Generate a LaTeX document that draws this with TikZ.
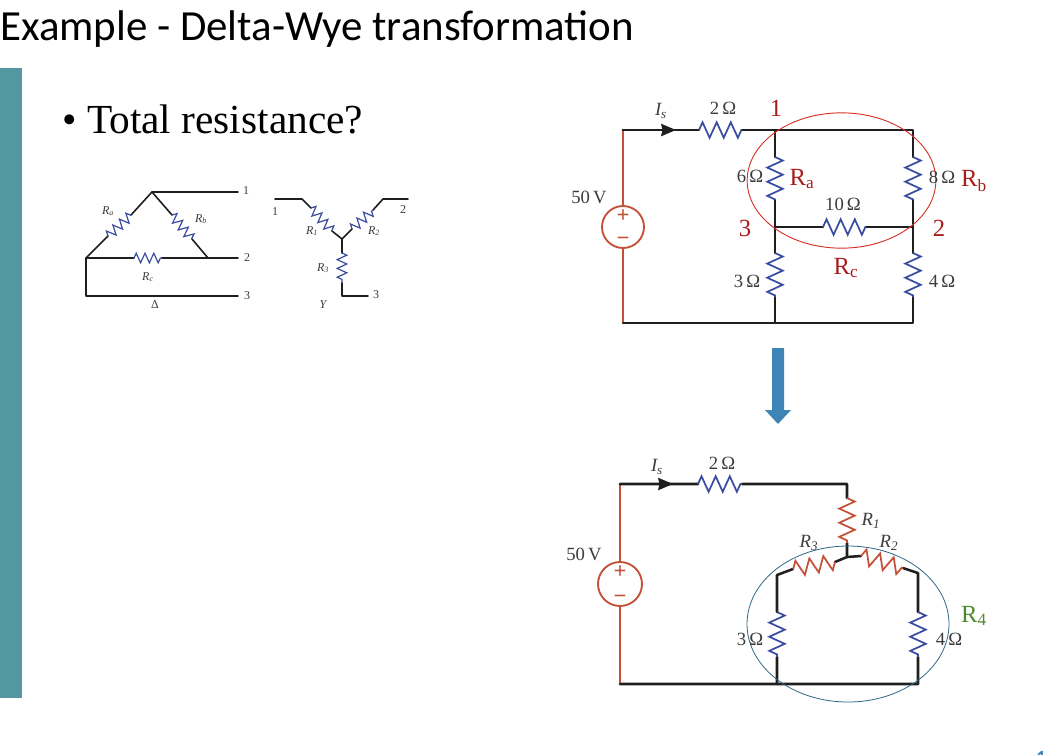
\documentclass[tikz,border=0pt]{standalone}
\usepackage{fontspec}
\setmainfont{Liberation Serif}
\newfontfamily\titlefont{Carlito}
\usetikzlibrary{decorations.pathmorphing,shapes.geometric,arrows.meta}
\definecolor{barteal}{RGB}{83,152,160}
\definecolor{wireblue}{RGB}{58,76,160}
\definecolor{wirered}{RGB}{196,80,56}
\definecolor{notered}{RGB}{168,28,28}
\definecolor{notegreen}{RGB}{78,138,48}
\definecolor{ringred}{RGB}{214,50,40}
\definecolor{ringblue}{RGB}{44,104,132}
\definecolor{arrowblue}{RGB}{62,132,180}
\definecolor{txtgray}{RGB}{60,60,60}
\tikzset{
  wire/.style={line width=1.9pt,black!88,line cap=round,line join=round},
  srcwire/.style={line width=1.5pt,wirered},
  srcring/.style={circle,draw=wirered,line width=1.4pt,minimum size=31.5pt,inner sep=0pt},
  resbig/.style={line width=1.3pt,wireblue,line join=miter,decorate,decoration={zigzag,segment length=10.6pt,amplitude=5.8pt}},
  resred/.style={resbig,wirered},
  ressmall/.style={line width=.9pt,wireblue,decorate,decoration={zigzag,segment length=6.6pt,amplitude=3.6pt}},
  thinwire/.style={line width=1.2pt,black!88,line cap=round,line join=round},
  val/.style={text=txtgray,font=\fontsize{14}{16}\selectfont,inner sep=0pt},
  sval/.style={text=txtgray,font=\fontsize{9}{11}\selectfont,inner sep=0pt},
  note/.style={text=notered,font=\fontsize{18.5}{21}\selectfont,inner sep=0pt},
  srcsign/.style={text=wirered,inner sep=0pt,font=\bfseries\fontsize{17}{18}\selectfont},
}
\begin{document}
\begin{tikzpicture}[x=0.75pt,y=0.75pt,yscale=-1,xscale=1]
  \useasboundingbox (0,0) rectangle (1046,754);

  %Slide frame
  \fill [barteal] (0,68) rectangle (22,698);
  \node (title) [anchor=west,inner sep=0pt,font=\titlefont\fontsize{32.2}{36}\selectfont] at (0,29) {Example - Delta-Wye transformation};
  \node (question) [anchor=west,inner sep=0pt,font=\fontsize{31}{34}\selectfont] at (62,119) {\textbullet\ Total resistance?};
  \node (pagenum) [anchor=east,inner sep=0pt,text=arrowblue,font=\titlefont\bfseries\fontsize{14}{16}\selectfont] at (1046,757) {1};

  %Delta network
  \coordinate (dA) at (152,192); \coordinate (dL) at (86,258); \coordinate (dJ) at (208,258);
  \coordinate (dOne) at (238,192); \coordinate (dTwo) at (238,258);
  \coordinate (dCorner) at (86,296); \coordinate (dThree) at (238,296);
  \coordinate (raS) at (108,236); \coordinate (raE) at (131,215);
  \coordinate (rbS) at (172,215); \coordinate (rbE) at (192,239);
  \coordinate (rcS) at (134,258); \coordinate (rcE) at (162,258);
  \draw [thinwire] (dOne) -- (dA) -- (raE) (raS) -- (dL) -- (rcS) (rcE) -- (dTwo);
  \draw [thinwire] (dA) -- (rbS) (rbE) -- (dJ);
  \draw [thinwire] (dL) -- (dCorner) -- (dThree);
  \draw [ressmall] (raS) -- (raE);
  \draw [ressmall] (rbS) -- (rbE);
  \draw [ressmall] (rcS) -- (rcE);

  %Wye network
  \coordinate (yOne) at (275,199); \coordinate (yOneB) at (302,199);
  \coordinate (r1S) at (311,208); \coordinate (r1E) at (332,231);
  \coordinate (yJ) at (342,239);
  \coordinate (r2S) at (352,229); \coordinate (r2E) at (373,210);
  \coordinate (yTwoB) at (383,199); \coordinate (yTwo) at (408,199);
  \coordinate (r3S) at (342,253); \coordinate (r3E) at (342,283);
  \coordinate (yBend) at (342,296); \coordinate (yThree) at (368,296);
  \draw [thinwire] (yOne) -- (yOneB) -- (r1S) (r1E) -- (yJ) -- (r2S) (r2E) -- (yTwoB) -- (yTwo);
  \draw [thinwire] (yJ) -- (r3S) (r3E) -- (yBend) -- (yThree);
  \draw [ressmall] (r1S) -- (r1E);
  \draw [ressmall] (r2S) -- (r2E);
  \draw [ressmall] (r3S) -- (r3E);

  % Text Node
  \node (lRa) [sval] at (108,211) {\itshape R\textsubscript{a}};
  \node (lRb) [sval] at (201,219) {\itshape R\textsubscript{b}};
  \node (lRc) [sval] at (148,277) {\itshape R\textsubscript{c}};
  \node (lDelta) [sval] at (155,305) {Δ};
  \node (lOne) [sval] at (246,191) {1};
  \node (lTwo) [sval] at (247,258) {2};
  \node (lThree) [sval] at (247,296) {3};
  \node (lR1) [sval] at (312,231) {\itshape R\textsubscript{1}};
  \node (lR2) [sval] at (374,231) {\itshape R\textsubscript{2}};
  \node (lR3) [sval] at (323,268) {\itshape R\textsubscript{3}};
  \node (lY) [sval] at (323,305) {\itshape Y};
  \node (yL1) [sval] at (275,212) {1};
  \node (yL2) [sval] at (403,210) {2};
  \node (yL3) [sval] at (376,295) {3};

  %Upper circuit
  \node (srcA) [srcring] at (623,227) {};
  \coordinate (aTL) at (623,130); \coordinate (aBL) at (623,323);
  \coordinate (a2S) at (699,130); \coordinate (a2E) at (742,130);
  \coordinate (aN1) at (775,130); \coordinate (aTR) at (913,130);
  \coordinate (a6S) at (775,157); \coordinate (a6E) at (775,200);
  \coordinate (a8S) at (913,157); \coordinate (a8E) at (913,200);
  \coordinate (aN3) at (775,227); \coordinate (aN2) at (913,227);
  \coordinate (a10S) at (823,227); \coordinate (a10E) at (866,227);
  \coordinate (a3S) at (775,253); \coordinate (a3E) at (775,297);
  \coordinate (a4S) at (913,253); \coordinate (a4E) at (913,297);
  \coordinate (aBM) at (775,323); \coordinate (aBR) at (913,323);
  \coordinate (aTip) at (676,130);
  \draw [srcwire] (aTL) -- (srcA) -- (aBL);
  \draw [wire] (aTL) -- (a2S) (a2E) -- (aTR) -- (a8S) (a8E) -- (aN2) -- (a4S) (a4E) -- (aBR) -- (aBL);
  \draw [wire] (aN1) -- (a6S) (a6E) -- (aN3) -- (a3S) (a3E) -- (aBM);
  \draw [wire] (aN3) -- (a10S) (a10E) -- (aN2);
  \draw [wire,-{Stealth[inset=0.8pt,length=11pt,width=9pt]}] (aTL) -- (aTip);
  \draw [resbig] (a2S) -- (a2E);
  \draw [resbig] (a6S) -- (a6E);
  \draw [resbig] (a8S) -- (a8E);
  \draw [resbig] (a10S) -- (a10E);
  \draw [resbig] (a3S) -- (a3E);
  \draw [resbig] (a4S) -- (a4E);
  \node (ringA) [ellipse,draw=ringred,line width=.7pt,minimum width=141.5pt,minimum height=101.5pt,inner sep=0pt] at (841.5,180.5) {};

  % Text Node
  \node (aPlus) [srcsign] at (623,216) {+};
  \node (aMinus) [srcsign] at (623,241) {\textminus};
  \node (aIs) [val] at (661,111) {\itshape I\textsubscript{s}};
  \node (a2L) [val] at (723,108) {2\,Ω};
  \node (a6L) [val] at (750,176) {6\,Ω};
  \node (a8L) [val] at (942,177) {8\,Ω};
  \node (a10L) [val] at (843,204) {10\,Ω};
  \node (a3L) [val] at (747,281) {3\,Ω};
  \node (a4L) [val] at (942,281) {4\,Ω};
  \node (a50L) [val] at (589,197) {50\,V};
  \node (aNote1) [note] at (776,108) {1};
  \node (aNote2) [note] at (939,228) {2};
  \node (aNote3) [note] at (745,228) {3};
  \node (aRa) [note] at (802,179) {R\textsubscript{a}};
  \node (aRb) [note] at (974,181) {R\textsubscript{b}};
  \node (aRc) [note] at (846,268) {R\textsubscript{c}};

  %Down arrow
  \fill [arrowblue] (772,348) -- (784,348) -- (784,410) -- (791,410) -- (778,424) -- (765,410) -- (772,410) -- cycle;

  %Lower circuit
  \node (srcB) [srcring,minimum size=33pt] at (620,584) {};
  \coordinate (bTL) at (620,484); \coordinate (bBL) at (620,684);
  \coordinate (b2S) at (698,484); \coordinate (b2E) at (742,484);
  \coordinate (bTR) at (847,484);
  \coordinate (r1bS) at (847,498); \coordinate (r1bE) at (847,543);
  \coordinate (bJ) at (847,557);
  \coordinate (r3bS) at (835,562); \coordinate (r3bE) at (793,569);
  \coordinate (bLC) at (777,575);
  \coordinate (r2bS) at (861,556); \coordinate (r2bE) at (903,568);
  \coordinate (bRC) at (918,573);
  \coordinate (b3S) at (777,612); \coordinate (b3E) at (777,657);
  \coordinate (b4S) at (918,612); \coordinate (b4E) at (918,657);
  \coordinate (bBM) at (777,684); \coordinate (bBR) at (918,684);
  \coordinate (bTip) at (673,484);
  \draw [srcwire] (bTL) -- (srcB) -- (bBL);
  \draw [wire] (bTL) -- (b2S) (b2E) -- (bTR) -- (r1bS) (r1bE) -- (bJ) -- (r3bS) (r3bE) -- (bLC) -- (b3S) (b3E) -- (bBM);
  \draw [wire] (bJ) -- (r2bS) (r2bE) -- (bRC) -- (b4S) (b4E) -- (bBR) -- (bBL);
  \draw [wire,-{Stealth[inset=0.8pt,length=11pt,width=9pt]}] (bTL) -- (bTip);
  \draw [resbig] (b2S) -- (b2E);
  \draw [resred] (r1bS) -- (r1bE);
  \draw [resred] (r3bS) -- (r3bE);
  \draw [resred] (r2bS) -- (r2bE);
  \draw [resbig] (b3S) -- (b3E);
  \draw [resbig] (b4S) -- (b4E);
  \node (ringB) [ellipse,draw=ringblue,line width=.6pt,minimum width=151.5pt,minimum height=117pt,inner sep=0pt] at (848,624) {};

  % Text Node
  \node (bPlus) [srcsign] at (620,572) {+};
  \node (bMinus) [srcsign] at (620,599) {\textminus};
  \node (bIs) [val] at (657,467) {\itshape I\textsubscript{s}};
  \node (b2L) [val] at (722,463) {2\,Ω};
  \node (bR1) [val] at (871,521) {\itshape R\textsubscript{1}};
  \node (bR3) [val] at (809,543) {\itshape R\textsubscript{3}};
  \node (bR2) [val] at (889,543) {\itshape R\textsubscript{2}};
  \node (b50L) [val] at (584,554) {50\,V};
  \node (b3L) [val] at (750,639) {3\,Ω};
  \node (b4L) [val] at (949,639) {4\,Ω};
  \node (bR4) [note,text=notegreen] at (974,616) {R\textsubscript{4}};

\end{tikzpicture}
\end{document}
